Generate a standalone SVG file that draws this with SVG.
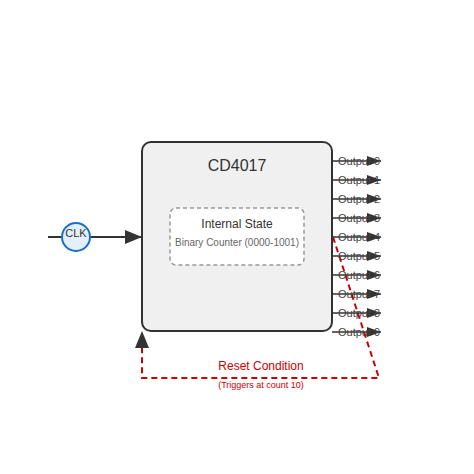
<svg xmlns="http://www.w3.org/2000/svg" width="474" height="474" viewBox="0 0 474 474">
<defs>
<marker id="arr" viewBox="0 0 10 10" refX="10" refY="5" markerWidth="14" markerHeight="10" markerUnits="userSpaceOnUse" orient="auto" preserveAspectRatio="none"><path d="M0,0 L10,5 L0,10 z" fill="#333"/></marker>
<marker id="arrBig" viewBox="0 0 10 10" refX="10" refY="5" markerWidth="17" markerHeight="14" markerUnits="userSpaceOnUse" orient="auto" preserveAspectRatio="none"><path d="M0,0 L10,5 L0,10 z" fill="#333"/></marker>
<style>
.t{font-family:"Liberation Sans",Arial,sans-serif}
.out{stroke:#333;stroke-width:1.5;fill:none}
.ol{font-size:11px;fill:#444}
.red{stroke:#cc0000;stroke-width:2;stroke-dasharray:6,4;fill:none}
</style>
</defs>
<rect width="474" height="474" fill="#fff"/>
<g id="connectors">
<line x1="48" y1="237" x2="142" y2="237" stroke="#333" stroke-width="2" marker-end="url(#arrBig)"/>
<g class="out">
<line x1="332" y1="161" x2="381" y2="161" marker-end="url(#arr)"/>
<line x1="332" y1="180" x2="381" y2="180" marker-end="url(#arr)"/>
<line x1="332" y1="199" x2="381" y2="199" marker-end="url(#arr)"/>
<line x1="332" y1="218" x2="381" y2="218" marker-end="url(#arr)"/>
<line x1="332" y1="237" x2="381" y2="237" marker-end="url(#arr)"/>
<line x1="332" y1="256" x2="381" y2="256" marker-end="url(#arr)"/>
<line x1="332" y1="275" x2="381" y2="275" marker-end="url(#arr)"/>
<line x1="332" y1="294" x2="381" y2="294" marker-end="url(#arr)"/>
<line x1="332" y1="313" x2="381" y2="313" marker-end="url(#arr)"/>
<line x1="332" y1="332" x2="381" y2="332" marker-end="url(#arr)"/>
</g>
<path class="red" d="M333,237 L379,378 L142,378 L142,348"/>
<path d="M142,331 L149,348 L135,348 z" fill="#333"/>
</g>
<g id="cd4017">
<rect x="142" y="142" width="190" height="189" rx="9" fill="#f0f0f0" stroke="#333" stroke-width="2"/>
<text class="t" x="237" y="171" font-size="16" fill="#333" text-anchor="middle">CD4017</text>
</g>
<g id="internal-state">
<rect x="170" y="208" width="134" height="57" rx="6" fill="#fff" stroke="#999" stroke-width="1.5" stroke-dasharray="4,3"/>
<text class="t" x="237" y="228" font-size="12" fill="#333" text-anchor="middle">Internal State</text>
<text class="t" x="237" y="246" font-size="10" fill="#666" text-anchor="middle">Binary Counter (0000-1001)</text>
</g>
<g id="clk">
<circle cx="76" cy="237" r="14" fill="#e3f0fc" stroke="#1a6fc4" stroke-width="2"/>
<text class="t" x="76" y="237" font-size="11" fill="#333" text-anchor="middle">CLK</text>
</g>
<g id="outputs" class="t ol">
<text x="338" y="165">Output 0</text>
<text x="338" y="184">Output 1</text>
<text x="338" y="203">Output 2</text>
<text x="338" y="222">Output 3</text>
<text x="338" y="241">Output 4</text>
<text x="338" y="260">Output 5</text>
<text x="338" y="279">Output 6</text>
<text x="338" y="298">Output 7</text>
<text x="338" y="317">Output 8</text>
<text x="338" y="336">Output 9</text>
</g>
<g id="reset-label">
<text class="t" x="261" y="370" font-size="12" fill="#cc0000" text-anchor="middle">Reset Condition</text>
<text class="t" x="261" y="388" font-size="9" fill="#cc0000" text-anchor="middle">(Triggers at count 10)</text>
</g>
</svg>
